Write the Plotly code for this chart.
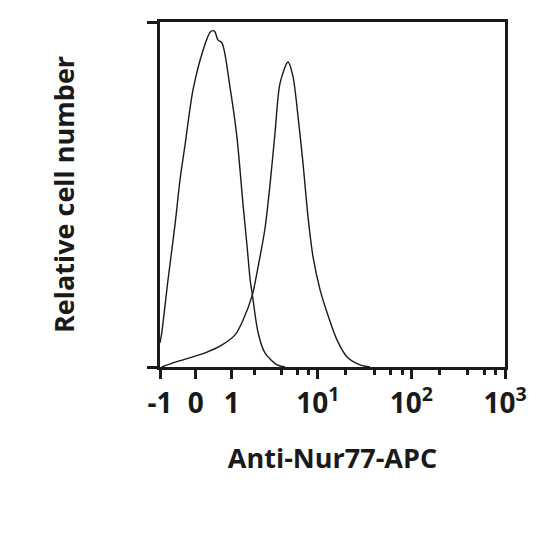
import numpy as np
import plotly.graph_objects as go

# fluorescence values (linear units) and relative counts (% of max)
iso_x = [-1.0, -0.94, -0.74, -0.53, -0.40, -0.27, -0.07, 0.18, 0.36, 0.44, 0.49,
         0.57, 0.69, 0.94, 1.19, 1.44, 1.62, 1.77, 1.88, 2.20, 2.64, 3.62, 4.42]
iso_y = [7.0, 9.9, 25.2, 41.7, 54.2, 64.3, 80.3, 91.9, 97.1, 97.5, 97.1,
         94.8, 93.9, 81.2, 66.7, 47.0, 35.0, 25.2, 21.0, 10.0, 4.1, 0.6, 0.0]

nur_x = [-0.94, -0.53, 0.23, 0.69, 1.12, 1.44, 1.88, 2.20, 2.64, 3.02, 3.43, 3.90,
         4.77, 5.41, 6.13, 6.93, 7.85, 8.89, 10.6, 12.6, 16.1, 20.6, 28.3, 36.2]
nur_y = [0.0, 1.4, 4.1, 6.4, 9.3, 13.6, 20.9, 29.0, 40.0, 53.0, 67.8, 82.3,
         88.4, 84.1, 72.5, 59.1, 43.5, 31.9, 22.3, 15.7, 7.8, 2.9, 0.6, 0.0]

tick_vals = [-1, 0, 1, 10, 100, 1000]
tick_text = ["-1", "0", "1", "10<sup>1</sup>", "10<sup>2</sup>", "10<sup>3</sup>"]
minor_vals = [2, 4, 6, 8, 20, 40, 60, 80, 200, 400, 600, 800]


def biex(v):
    # arcsinh display transform, roughly linear near zero and log above ~10
    return np.arcsinh(np.asarray(v, dtype=float))


line = dict(color="#1a1a1a", width=1.4, shape="spline", smoothing=0.8)

fig = go.Figure()
fig.add_trace(go.Scatter(x=biex(iso_x), y=iso_y, mode="lines", line=line,
                         hoverinfo="skip", showlegend=False))
fig.add_trace(go.Scatter(x=biex(nur_x), y=nur_y, mode="lines", line=line,
                         hoverinfo="skip", showlegend=False))

font = "Open Sans, Noto Sans, DejaVu Sans, sans-serif"

fig.update_layout(
    width=532, height=532,
    margin=dict(l=152, r=35, t=14, b=173),
    paper_bgcolor="white", plot_bgcolor="white",
    font=dict(family=font, color="#1a1a1a"),
    xaxis=dict(
        range=[float(biex(-1)), float(biex(1000))],
        tickmode="array",
        tickvals=biex(tick_vals).tolist(),
        ticktext=tick_text,
        tickfont=dict(size=28, family=font, weight="bold"),
        ticks="outside", ticklen=9, tickwidth=3, tickcolor="#1a1a1a",
        minor=dict(tickmode="array", tickvals=biex(minor_vals).tolist(),
                   ticks="outside", ticklen=5, tickwidth=3, tickcolor="#1a1a1a"),
        showline=True, linewidth=3, linecolor="#1a1a1a", mirror=True,
        showgrid=False, zeroline=False,
        title=dict(text="Anti-Nur77-APC", standoff=30,
                   font=dict(size=27, family=font, weight="bold")),
    ),
    yaxis=dict(
        range=[0, 100],
        tickmode="array", tickvals=[0, 100],
        showticklabels=False,
        ticks="outside", ticklen=10, tickwidth=3, tickcolor="#1a1a1a",
        showline=True, linewidth=3, linecolor="#1a1a1a", mirror=True,
        showgrid=False, zeroline=False,
        title=dict(text="Relative cell number", standoff=65,
                   font=dict(size=27, family=font, weight="bold")),
    ),
)

fig.write_html("out.html")
